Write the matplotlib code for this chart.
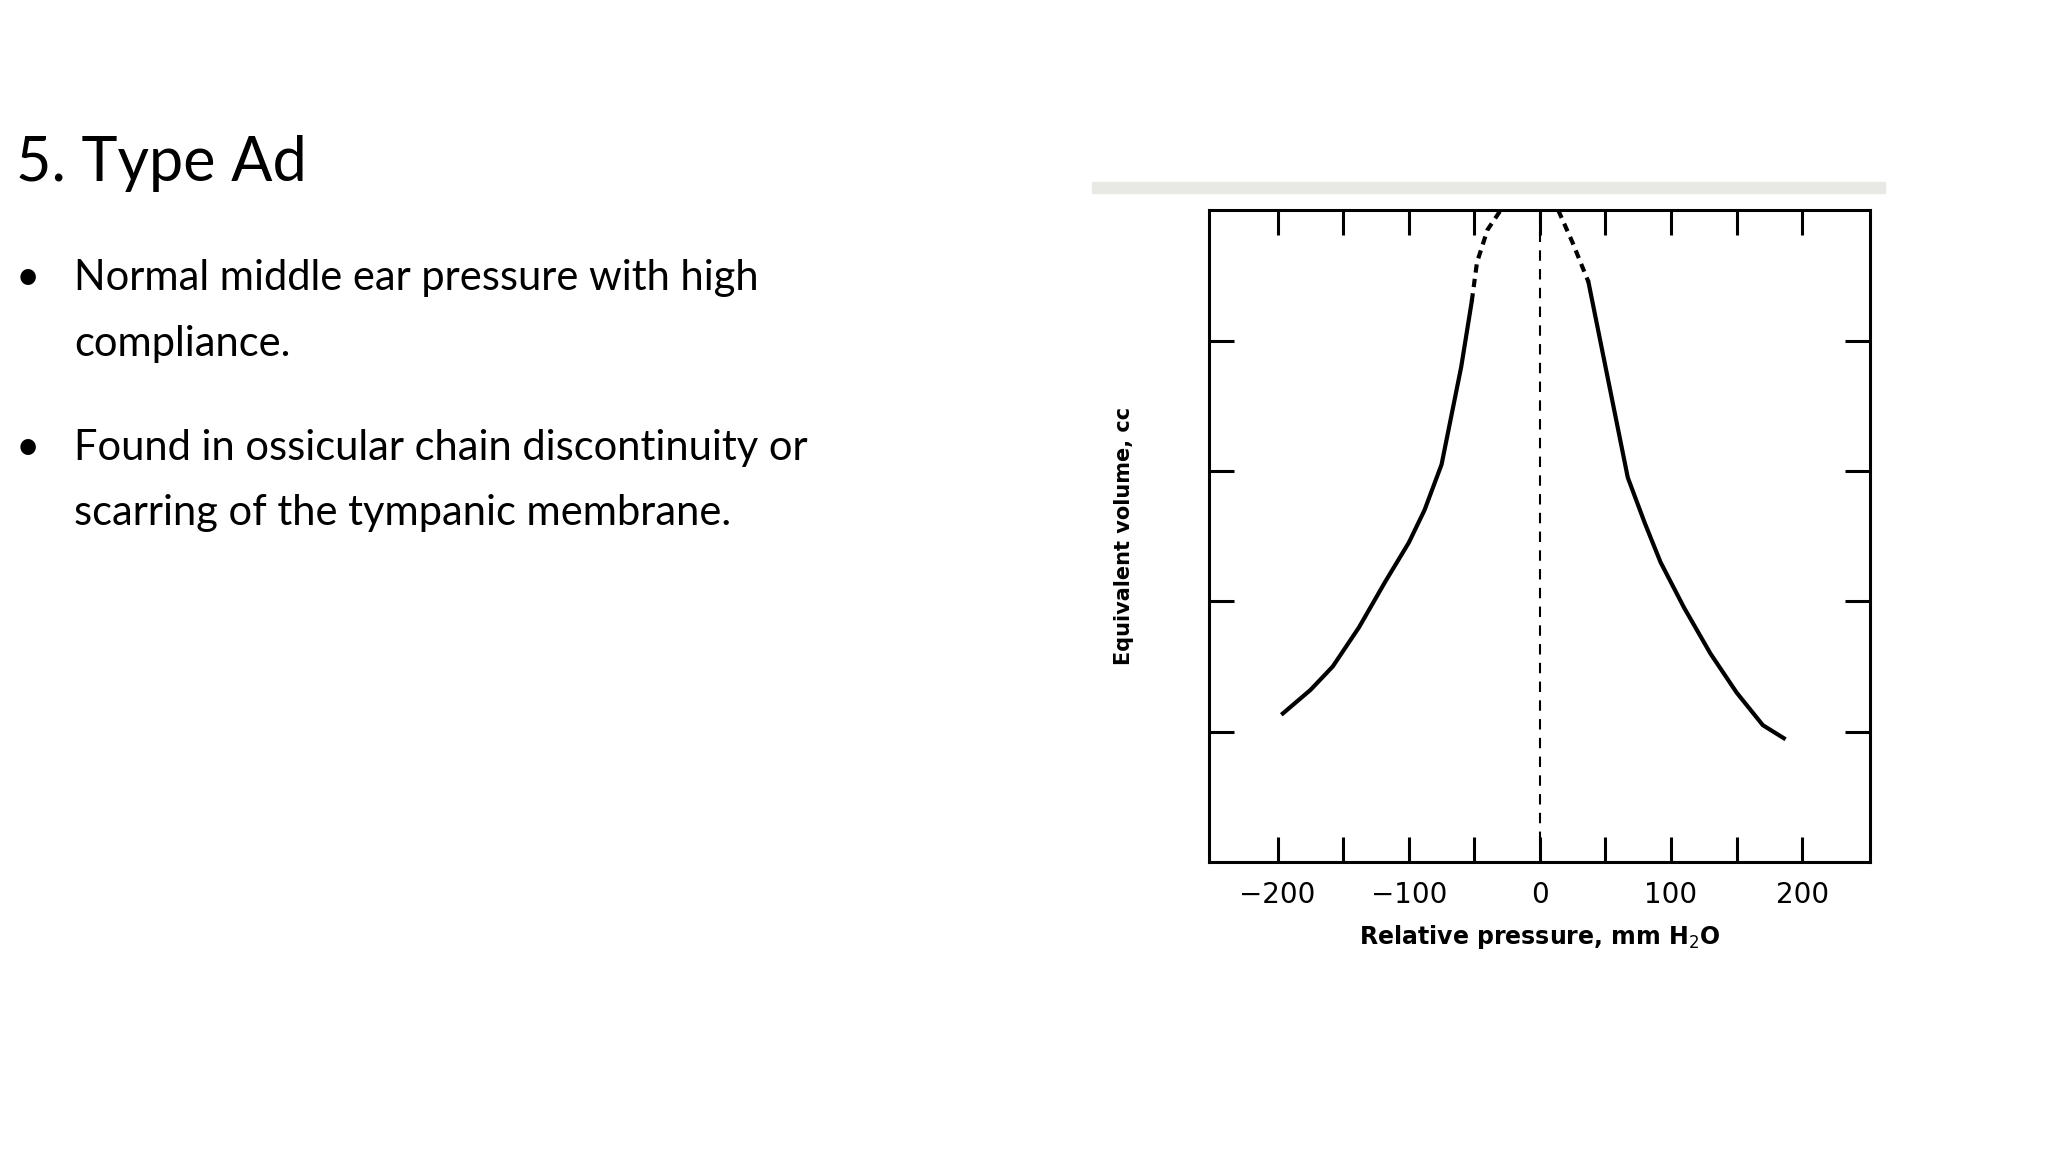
import matplotlib
matplotlib.use("Agg")
import matplotlib.pyplot as plt

title = "5. Type Ad"
bullets = [["Normal middle ear pressure with high", "compliance."],
           ["Found in ossicular chain discontinuity or", "scarring of the tympanic membrane."]]

left_solid_x = [-196, -175, -158, -138, -118, -100, -88, -75, -68, -60, -52]
left_solid_y = [1.14, 1.32, 1.5, 1.8, 2.15, 2.45, 2.7, 3.05, 3.4, 3.8, 4.3]
left_dash_x = [-52, -48, -40, -30]
left_dash_y = [4.3, 4.6, 4.85, 5.0]
right_dash_x = [14, 25, 37]
right_dash_y = [5.0, 4.75, 4.45]
right_solid_x = [37, 45, 52, 60, 67, 80, 92, 110, 130, 150, 170, 186]
right_solid_y = [4.45, 4.05, 3.7, 3.3, 2.95, 2.6, 2.3, 1.95, 1.6, 1.3, 1.05, 0.95]
xticks = [-200, -100, 0, 100, 200]
xtick_labels = ["\u2212200", "\u2212100", "0", "100", "200"]

fig = plt.figure(figsize=(20.48, 11.52), dpi=100)
fig.text(12/1568, 1-125/882, title, fontsize=44, family="Lato", va="center", ha="left")
ys = [[213, 263], [343, 393]]
for b, yy in zip(bullets, ys):
    fig.text(12/1568, 1-yy[0]/882, "\u2022", fontsize=30, family="Lato", va="center")
    for line, y in zip(b, yy):
        fig.text(57/1568, 1-y/882, line, fontsize=30, family="Lato", va="center")

# gray bar
fig.patches.append(plt.Rectangle((836/1568, 1-148/882), (1443-836)/1568, 9/882,
                                 transform=fig.transFigure, color="#e8e8e4", zorder=0))

ax = fig.add_axes([926/1568, 1-660/882, 506/1568, 499/882])
ax.set_xlim(-252, 252)
ax.set_ylim(0, 5)
lw = 3
ax.plot(left_solid_x, left_solid_y, color="black", lw=lw)
ax.plot(left_dash_x, left_dash_y, color="black", lw=lw, ls=(0, (2, 1.5)))
ax.plot(right_dash_x, right_dash_y, color="black", lw=lw, ls=(0, (2, 1.5)))
ax.plot(right_solid_x, right_solid_y, color="black", lw=lw)
ax.plot([0, 0], [0.15, 5], color="black", lw=1.5, ls=(0, (5, 4)))
for s in ax.spines.values():
    s.set_linewidth(2.2)
ax.set_xticks(range(-200, 201, 50), minor=False)
ax.set_xticklabels([xtick_labels[xticks.index(v)] if v in xticks else "" for v in range(-200, 201, 50)],
                   fontsize=20, family="DejaVu Sans")
ax.set_yticks([1, 2, 3, 4])
ax.set_yticklabels([])
ax.tick_params(direction="in", length=18, width=2.2, top=True, right=True, pad=14)
ax.set_xlabel("Relative pressure, mm H$_2$O", fontsize=17, fontweight="bold", labelpad=10)
ax.set_ylabel("Equivalent volume, cc", fontsize=15, fontweight="bold", labelpad=40)
fig.savefig("out.png", dpi=100)
